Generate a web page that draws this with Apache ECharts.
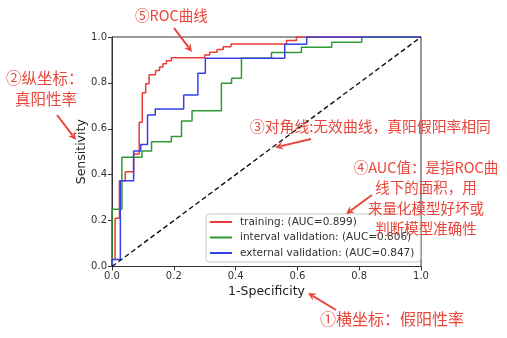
<!DOCTYPE html>
<html>
<head>
<meta charset="utf-8">
<script src="https://cdn.jsdelivr.net/npm/echarts@6/dist/echarts.min.js"></script>
<style>
html,body{margin:0;padding:0;background:#fff;}
#chart{width:507px;height:338px;}
</style>
</head>
<body>
<div id="chart"></div>
<script>
// ---- data ----
const seriesNames = ['training: (AUC=0.899)', 'interval validation: (AUC=0.806)', 'external validation: (AUC=0.847)'];
const axisTicks = [0, 0.2, 0.4, 0.6, 0.8, 1.0];

const fprTrain = [0, 0, 0.01, 0.01, 0.024, 0.024, 0.043, 0.043, 0.07, 0.07, 0.088, 0.088, 0.098, 0.098, 0.109, 0.109, 0.12, 0.12, 0.141, 0.141, 0.154, 0.154, 0.165, 0.165, 0.176, 0.176, 0.192, 0.192, 0.3, 0.3, 0.316, 0.316, 0.34, 0.34, 0.36, 0.36, 0.385, 0.385, 0.565, 0.565, 0.597, 0.597, 1];
const tprTrain = [0, 0.03, 0.03, 0.21, 0.21, 0.374, 0.374, 0.413, 0.413, 0.49, 0.49, 0.628, 0.628, 0.757, 0.757, 0.796, 0.796, 0.836, 0.836, 0.854, 0.854, 0.869, 0.869, 0.883, 0.883, 0.896, 0.896, 0.91, 0.91, 0.922, 0.922, 0.934, 0.934, 0.946, 0.946, 0.958, 0.958, 0.97, 0.97, 0.985, 0.985, 1, 1];

const fprInterval = [0, 0, 0.032, 0.032, 0.097, 0.097, 0.128, 0.128, 0.192, 0.192, 0.225, 0.225, 0.259, 0.259, 0.354, 0.354, 0.387, 0.387, 0.419, 0.419, 0.516, 0.516, 0.613, 0.613, 0.711, 0.711, 0.808, 0.808, 1];
const tprInterval = [0, 0.249, 0.249, 0.476, 0.476, 0.503, 0.503, 0.544, 0.544, 0.566, 0.566, 0.634, 0.634, 0.679, 0.679, 0.798, 0.798, 0.82, 0.82, 0.907, 0.907, 0.933, 0.933, 0.955, 0.955, 0.977, 0.977, 1, 1];

const fprExternal = [0, 0, 0.027, 0.027, 0.07, 0.07, 0.093, 0.093, 0.115, 0.115, 0.14, 0.14, 0.232, 0.232, 0.278, 0.278, 0.302, 0.302, 0.559, 0.559, 0.63, 0.63, 1];
const tprExternal = [0, 0.03, 0.03, 0.374, 0.374, 0.503, 0.503, 0.532, 0.532, 0.66, 0.66, 0.686, 0.686, 0.747, 0.747, 0.842, 0.842, 0.907, 0.907, 0.968, 0.968, 1, 1];

const diagX = [0, 1];
const diagY = [0, 1];

const annotations = [
  {text: '⑤ROC曲线', x: 135, y: 15, size: 14.5, align: 'left'},
  {text: '②纵坐标：', x: 6, y: 78, size: 15.5, align: 'left'},
  {text: '真阳性率', x: 15, y: 99, size: 15.5, align: 'left'},
  {text: '③对角线:无效曲线，真阳假阳率相同', x: 250, y: 126, size: 14.8, align: 'left'},
  {text: '④AUC值：是指ROC曲', x: 426, y: 167, size: 14.5, align: 'center'},
  {text: '线下的面积，用', x: 426, y: 187, size: 14.5, align: 'center'},
  {text: '来量化模型好坏或', x: 426, y: 208, size: 14.5, align: 'center'},
  {text: '判断模型准确性', x: 426, y: 228, size: 14.5, align: 'center'},
  {text: '①横坐标：假阳性率', x: 320, y: 319, size: 16, align: 'left'}
];
const arrows = [
  [174, 28, 192, 52],
  [57, 115, 76, 140],
  [311, 139, 275, 147.5],
  [372, 195, 346, 214],
  [336, 310, 308, 293]
];

// ---- build ----
const zip = (xs, ys) => xs.map((x, i) => [x, ys[i]]);
const RED = '#ec3b36', GREEN = '#2f9a34', BLUE = '#3540e8', ANN = '#e8463a';
const fontLatin = 'DejaVu Sans';
const fontCJK = '"Noto Sans CJK SC", sans-serif';

const graphics = [];
annotations.forEach(a => {
  graphics.push({
    type: 'text', x: a.x, y: a.y, z: 100,
    style: {text: a.text, fill: ANN, font: a.size + 'px ' + fontCJK, textAlign: a.align, textVerticalAlign: 'middle'}
  });
});
arrows.forEach(([x1, y1, x2, y2]) => {
  const ang = Math.atan2(y2 - y1, x2 - x1);
  const L = 8, W = 4;
  const bx = x2 - L * Math.cos(ang), by = y2 - L * Math.sin(ang);
  const px = -Math.sin(ang), py = Math.cos(ang);
  graphics.push({type: 'line', z: 100, shape: {x1: x1, y1: y1, x2: bx + 2 * Math.cos(ang), y2: by + 2 * Math.sin(ang)}, style: {stroke: ANN, lineWidth: 2}});
  graphics.push({type: 'polygon', z: 100, shape: {points: [[x2, y2], [bx + px * W, by + py * W], [bx + 2.5 * Math.cos(ang), by + 2.5 * Math.sin(ang)], [bx - px * W, by - py * W]]}, style: {fill: ANN}});
});

const axisCommon = {
  type: 'value', min: 0, max: 1, interval: 0.2,
  nameLocation: 'middle',
  nameMoveOverlap: false,
  nameTextStyle: {fontFamily: fontLatin, fontSize: 12.5, color: '#222'},
  axisLine: {show: true, lineStyle: {color: '#333', width: 1}},
  axisTick: {show: true, inside: false, length: 4, lineStyle: {color: '#333'}},
  axisLabel: {fontFamily: fontLatin, fontSize: 10, color: '#333', formatter: v => v.toFixed(1), margin: 5},
  splitLine: {show: false}
};

const chart = echarts.init(document.getElementById('chart'), null, {renderer: 'canvas'});
chart.setOption({
  animation: false,
  backgroundColor: '#fff',
  grid: {left: 112, right: 86, top: 37, bottom: 71.5, show: true, borderColor: '#333', borderWidth: 1, containLabel: false},
  xAxis: Object.assign({}, axisCommon, {name: '1-Specificity', nameGap: 19}),
  yAxis: Object.assign({}, axisCommon, {name: 'Sensitivity', nameGap: 24}),
  legend: {
    orient: 'vertical', left: 206, top: 214,
    data: seriesNames.map(n => ({name: n, icon: 'rect'})),
    itemWidth: 22, itemHeight: 2, itemGap: 3.5,
    padding: [2, 6, 3, 4],
    borderColor: '#c8c8c8', borderWidth: 1, borderRadius: 3,
    backgroundColor: 'rgba(255,255,255,0.85)',
    textStyle: {fontFamily: fontLatin, fontSize: 10.5, color: '#333', lineHeight: 12, padding: [0, 0, 0, 3]}
  },
  series: [
    {name: seriesNames[0], type: 'line', data: zip(fprTrain, tprTrain), symbol: 'none', lineStyle: {color: RED, width: 1.5}, itemStyle: {color: RED}, z: 3},
    {name: seriesNames[1], type: 'line', data: zip(fprInterval, tprInterval), symbol: 'none', lineStyle: {color: GREEN, width: 1.5}, itemStyle: {color: GREEN}, z: 4},
    {name: seriesNames[2], type: 'line', data: zip(fprExternal, tprExternal), symbol: 'none', lineStyle: {color: BLUE, width: 1.5}, itemStyle: {color: BLUE}, z: 5},
    {name: 'diagonal', type: 'line', data: zip(diagX, diagY), symbol: 'none', lineStyle: {color: '#111', width: 1.4, type: [5, 3]}, z: 6, silent: true}
  ],
  graphic: graphics
});
</script>
</body>
</html>
